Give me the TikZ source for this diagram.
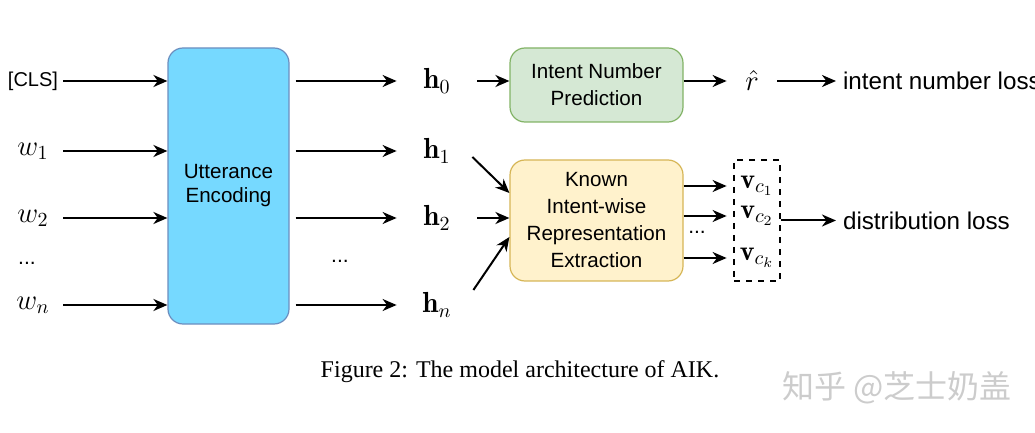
\documentclass[tikz,border=0pt]{standalone}
\usepackage{fontspec}
\usepackage{amsmath}
\newfontfamily\sansf{Liberation Sans}
\newfontfamily\serf{Liberation Serif}
\newfontfamily\cjk{Noto Sans CJK SC}
\usetikzlibrary{arrows.meta}

\definecolor{encfill}{HTML}{76D9FF}
\definecolor{encline}{HTML}{6C8EBF}
\definecolor{grnfill}{HTML}{D5E8D4}
\definecolor{grnline}{HTML}{82B366}
\definecolor{ylwfill}{HTML}{FFF2CC}
\definecolor{ylwline}{HTML}{D6B656}

\begin{document}
\begin{tikzpicture}[x=0.5pt, y=-0.5pt,
        arr/.style={-{Stealth[length=7pt, width=6pt, inset=2.2pt]}, line width=1pt},
        blk/.style={draw, rounded corners=7.5pt, line width=0.6pt, align=center,
            font=\sansf\fontsize{10.3}{13.5}\selectfont},
        tok/.style={minimum width=30pt, inner sep=0pt, font=\fontsize{14.5}{17}\selectfont},
        hid/.style={minimum width=40pt, inner sep=0pt, font=\fontsize{14.5}{17}\selectfont},
        vec/.style={minimum width=30pt, inner sep=0pt, font=\fontsize{14}{16}\selectfont},
        lbl/.style={anchor=west, font=\sansf\fontsize{12.1}{14}\selectfont},
        dots/.style={font=\sansf\fontsize{10.5}{12}\selectfont}]
        \useasboundingbox (0,0) rectangle (1035,433);

        % encoder
        \node[blk, fill=encfill, draw=encline, minimum width=60.5pt, minimum height=138pt,
            font=\sansf\fontsize{10.3}{12}\selectfont] (enc) at (228.5,186) {Utterance\\Encoding};

        % inputs
        \node[tok, font=\sansf\fontsize{10}{12}\selectfont] (cls) at (33,81) {[CLS]};
        \node[tok] (w1) at (33,151) {$w_1$};
        \node[tok] (w2) at (33,218) {$w_2$};
        \node[dots] (idots) at (27,263) {...};
        \node[tok] (wn) at (33,305) {$w_n$};
        \foreach \t in {cls,w1,w2,wn}
            \draw[arr] (\t) -- (\t -| enc.west);

        % hidden states
        \node[hid] (h0) at (437,81) {$\mathbf{h}_0$};
        \node[hid] (h1) at (437,151) {$\mathbf{h}_1$};
        \node[hid] (h2) at (437,218) {$\mathbf{h}_2$};
        \node[dots] (odots) at (340,261) {...};
        \node[hid] (hn) at (437,305) {$\mathbf{h}_n$};
        \foreach \h in {h0,h1,h2,hn}
            \draw[arr, shorten <=3pt] (enc.east |- \h) -- (\h);

        % intent number branch
        \node[blk, fill=grnfill, draw=grnline, minimum width=86.5pt, minimum height=37pt]
            (intnum) at (596.5,85) {Intent Number\\Prediction};
        \node[minimum width=25pt, inner sep=0pt, font=\fontsize{14.5}{17}\selectfont] (rhat) at (752,81) {$\hat{r}$};
        \node[lbl] (loss1) at (836,81) {intent number loss};
        \draw[arr] (h0) -- (h0 -| intnum.west);
        \draw[arr] (intnum.east |- rhat) -- (rhat);
        \draw[arr] (rhat) -- (rhat -| loss1.west);

        % known intent branch
        \node[blk, fill=ylwfill, draw=ylwline, minimum width=86.5pt, minimum height=60.5pt]
            (known) at (596.5,220.5) {Known\\Intent-wise\\Representation\\Extraction};
        \draw[arr] ([shift={(-5,6)}]h1.east) -- ([shift={(0,-27.5)}]known.west);
        \draw[arr] (h2) -- (h2 -| known.west);
        \draw[arr] ([shift={(-4,-15)}]hn.east) -- ([shift={(0,16.5)}]known.west);

        \node[draw, dashed, line width=0.6pt, minimum width=23pt, minimum height=60.5pt]
            (vbox) at (757,220.5) {};
        \node[vec] (vc1) at (757,186) {$\mathbf{v}_{c_1}$};
        \node[vec] (vc2) at (757,216) {$\mathbf{v}_{c_2}$};
        \node[vec] (vck) at (757,258) {$\mathbf{v}_{c_k}$};
        \node[dots] (kdots) at (697,232) {...};
        \foreach \v in {vc1,vc2,vck}
            \draw[arr] (known.east |- \v) -- (\v);
        \node[lbl] (loss2) at (836,221) {distribution loss};
        \draw[arr] (vbox) -- (vbox -| loss2.west);

        % caption and mark
        \node[font=\serf\fontsize{12}{14}\selectfont] (cap) at (520,372) {Figure 2: The model architecture of AIK.};
        \node[font=\cjk\fontsize{16}{18}\selectfont, text=gray!40] (mark) at (897,388) {知乎 @芝士奶盖};
\end{tikzpicture}
\end{document}
